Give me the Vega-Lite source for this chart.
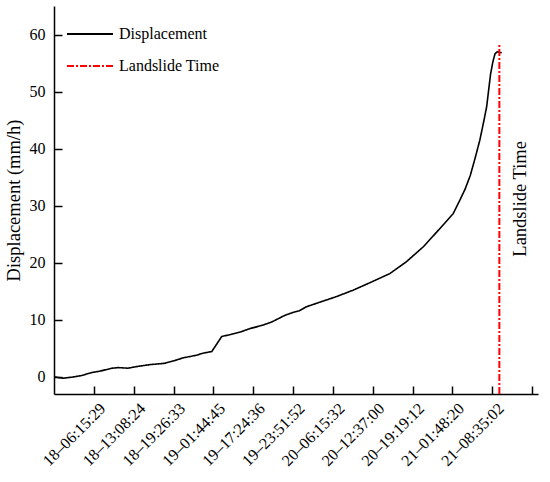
{
  "$schema": "https://vega.github.io/schema/vega-lite/v6.json",
  "width": 484,
  "height": 388,
  "autosize": {"type": "none"},
  "padding": {"left": 54, "top": 6, "right": 12, "bottom": 88},
  "config": {
    "view": {"stroke": null},
    "font": "Liberation Serif",
    "axis": {
      "grid": false,
      "domainColor": "black",
      "domainWidth": 1.5,
      "tickColor": "black",
      "tickWidth": 1.5,
      "labelFont": "Liberation Serif",
      "labelFontSize": 16,
      "labelColor": "black",
      "titleFont": "Liberation Serif",
      "titleFontSize": 18.5,
      "titleFontWeight": "normal",
      "titleColor": "black"
    },
    "legend": {
      "labelFont": "Liberation Serif",
      "labelFontSize": 16,
      "labelColor": "black"
    }
  },
  "datasets": {
    "displacement": [
      {"t": 0, "value": 0, "series": "Displacement"},
      {"t": 0.23, "value": -0.23, "series": "Displacement"},
      {"t": 0.45, "value": -0.05, "series": "Displacement"},
      {"t": 0.69, "value": 0.23, "series": "Displacement"},
      {"t": 0.94, "value": 0.75, "series": "Displacement"},
      {"t": 1.15, "value": 1.0, "series": "Displacement"},
      {"t": 1.44, "value": 1.5, "series": "Displacement"},
      {"t": 1.61, "value": 1.63, "series": "Displacement"},
      {"t": 1.86, "value": 1.52, "series": "Displacement"},
      {"t": 2.07, "value": 1.8, "series": "Displacement"},
      {"t": 2.41, "value": 2.15, "series": "Displacement"},
      {"t": 2.78, "value": 2.38, "series": "Displacement"},
      {"t": 3.08, "value": 2.97, "series": "Displacement"},
      {"t": 3.24, "value": 3.33, "series": "Displacement"},
      {"t": 3.58, "value": 3.8, "series": "Displacement"},
      {"t": 3.74, "value": 4.15, "series": "Displacement"},
      {"t": 3.96, "value": 4.44, "series": "Displacement"},
      {"t": 4.21, "value": 7.07, "series": "Displacement"},
      {"t": 4.46, "value": 7.47, "series": "Displacement"},
      {"t": 4.71, "value": 7.94, "series": "Displacement"},
      {"t": 4.92, "value": 8.47, "series": "Displacement"},
      {"t": 5.21, "value": 9.0, "series": "Displacement"},
      {"t": 5.46, "value": 9.6, "series": "Displacement"},
      {"t": 5.8, "value": 10.8, "series": "Displacement"},
      {"t": 6.0, "value": 11.3, "series": "Displacement"},
      {"t": 6.16, "value": 11.6, "series": "Displacement"},
      {"t": 6.34, "value": 12.3, "series": "Displacement"},
      {"t": 6.72, "value": 13.2, "series": "Displacement"},
      {"t": 7.09, "value": 14.07, "series": "Displacement"},
      {"t": 7.51, "value": 15.2, "series": "Displacement"},
      {"t": 7.93, "value": 16.5, "series": "Displacement"},
      {"t": 8.43, "value": 18.1, "series": "Displacement"},
      {"t": 8.85, "value": 20.2, "series": "Displacement"},
      {"t": 9.27, "value": 22.8, "series": "Displacement"},
      {"t": 9.61, "value": 25.4, "series": "Displacement"},
      {"t": 10.02, "value": 28.6, "series": "Displacement"},
      {"t": 10.19, "value": 31.0, "series": "Displacement"},
      {"t": 10.32, "value": 32.9, "series": "Displacement"},
      {"t": 10.45, "value": 35.3, "series": "Displacement"},
      {"t": 10.57, "value": 38.3, "series": "Displacement"},
      {"t": 10.69, "value": 41.5, "series": "Displacement"},
      {"t": 10.78, "value": 44.5, "series": "Displacement"},
      {"t": 10.86, "value": 47.3, "series": "Displacement"},
      {"t": 10.96, "value": 53.1, "series": "Displacement"},
      {"t": 11.02, "value": 55.3, "series": "Displacement"},
      {"t": 11.07, "value": 56.6, "series": "Displacement"},
      {"t": 11.13, "value": 57.0, "series": "Displacement"},
      {"t": 11.24, "value": 56.8, "series": "Displacement"}
    ],
    "landslide": [
      {"t": 11.18, "low": -3, "high": 58.5, "series": "Landslide Time"}
    ]
  },
  "layer": [
    {
      "data": {"name": "displacement"},
      "mark": {"type": "line", "strokeWidth": 1.6},
      "encoding": {
        "x": {
          "field": "t",
          "type": "quantitative",
          "scale": {"domain": [0, 12.15], "nice": false, "zero": false},
          "axis": {
            "title": null,
            "values": [1, 2, 3, 4, 5, 6, 7, 8, 9, 10, 11, 12],
            "labelExpr": "['', '18–06:15:29', '18–13:08:24', '18–19:26:33', '19–01:44:45', '19–17:24:36', '19–23:51:52', '20–06:15:32', '20–12:37:00', '20–19:19:12', '21–01:48:20', '21–08:35:02', ''][datum.value]",
            "labelAngle": -45,
            "labelAlign": "right",
            "labelBaseline": "top",
            "tickSize": -8,
            "labelPadding": 14,
            "labelOffset": 3,
            "labelFlush": false,
            "labelOverlap": false
          }
        },
        "y": {
          "field": "value",
          "type": "quantitative",
          "scale": {"domain": [-3, 65], "nice": false, "zero": false},
          "axis": {
            "title": "Displacement (mm/h)",
            "values": [0, 5, 10, 15, 20, 25, 30, 35, 40, 45, 50, 55, 60, 65],
            "labelExpr": "datum.value % 10 === 0 ? datum.label : ''",
            "tickSize": -8,
            "labelPadding": 17,
            "titlePadding": 6,
            "encode": {
              "ticks": {"update": {"x2": {"signal": "datum.value % 10 === 0 ? 8 : 4"}}}
            }
          }
        },
        "color": {
          "field": "series",
          "type": "nominal",
          "scale": {"domain": ["Displacement", "Landslide Time"], "range": ["black", "#ff0000"]},
          "legend": {
            "title": null,
            "orient": "none",
            "legendX": 12,
            "legendY": 4,
            "symbolType": "stroke",
            "symbolSize": 2116,
            "symbolStrokeWidth": 2,
            "rowPadding": -20,
            "labelOffset": 5
          }
        },
        "strokeDash": {
          "field": "series",
          "type": "nominal",
          "scale": {"domain": ["Displacement", "Landslide Time"], "range": [[1, 0], [7, 2, 2, 2]]},
          "legend": {
            "title": null,
            "orient": "none",
            "legendX": 12,
            "legendY": 4,
            "symbolType": "stroke",
            "symbolSize": 2116,
            "symbolStrokeWidth": 2,
            "rowPadding": -20,
            "labelOffset": 5
          }
        }
      }
    },
    {
      "data": {"name": "landslide"},
      "mark": {"type": "rule", "strokeWidth": 2},
      "encoding": {
        "x": {"field": "t", "type": "quantitative"},
        "y": {"field": "low", "type": "quantitative"},
        "y2": {"field": "high"},
        "color": {"field": "series", "type": "nominal"},
        "strokeDash": {"field": "series", "type": "nominal"}
      }
    },
    {
      "data": {"name": "landslide"},
      "mark": {"type": "text", "angle": 270, "align": "center", "baseline": "middle", "dy": 21, "fontSize": 18.5, "font": "Liberation Serif", "color": "black"},
      "encoding": {
        "x": {"field": "t", "type": "quantitative"},
        "y": {"datum": 31.2},
        "text": {"field": "series"}
      }
    }
  ]
}
